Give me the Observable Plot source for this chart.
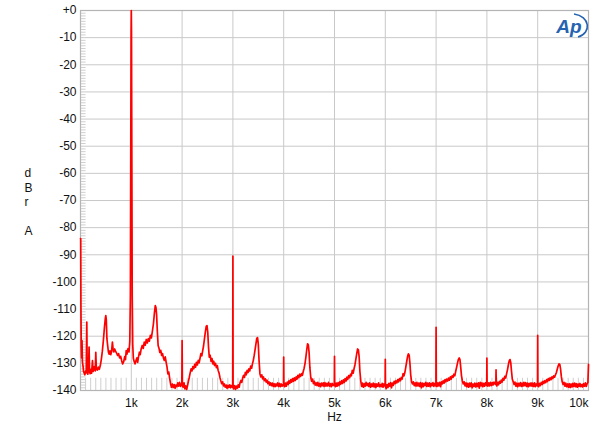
<!DOCTYPE html>
<html><head><meta charset="utf-8">
<script src="https://cdn.jsdelivr.net/npm/d3@7"></script>
<script src="https://cdn.jsdelivr.net/npm/@observablehq/plot@0.6"></script>
<style>body{margin:0;background:#fff} svg{display:block}</style>
</head><body><div id="chart"></div>
<script>
// Spectrum: [frequency Hz, level dBrA]
const spectrum = [
[0,-84],[4,-84],[8,-108],[15,-124],[22,-128],[30,-121.6],[38,-129.5],[50,-131],[60,-133],[72,-133.5],[85,-134.2],[100,-132.8],[112,-133.5],[124,-114.8],[132,-133],[145,-134],[158,-131.5],[169,-124],[178,-133],[190,-133.8],[205,-132.2],[218,-133.6],[236,-129],[248,-133],[262,-132],[275,-131.2],[290,-132.8],[301,-125.9],[312,-132],[330,-132.5],[350,-131.4],[370,-132.2],[390,-130.8],[410,-128.5],[430,-125.5],[450,-121.6],[470,-117],[488,-113.5],[498,-112.4],[508,-114],[520,-120.9],[535,-123.5],[550,-125.9],[565,-126.6],[580,-125.4],[595,-126.8],[612,-125.6],[628,-122.2],[640,-124.4],[655,-125.8],[670,-124.7],[690,-125.5],[710,-126.2],[730,-127.1],[750,-126.4],[770,-128],[790,-127.4],[810,-129],[830,-130.2],[850,-129.4],[870,-127.5],[885,-128.6],[900,-125.3],[915,-126.6],[935,-124.6],[955,-125.8],[970,-122],[982,-105],[990,-50],[996,-8],[1000,0],[1004,-8],[1010,-50],[1018,-105],[1028,-123],[1040,-128.1],[1058,-129.4],[1075,-130.2],[1092,-129],[1110,-128],[1125,-129.6],[1140,-127.8],[1160,-125.9],[1175,-126.8],[1195,-124.6],[1215,-123.4],[1235,-124.5],[1255,-122.2],[1275,-123.3],[1295,-121.2],[1315,-122.5],[1335,-120.9],[1355,-121.8],[1375,-119.7],[1395,-120.6],[1415,-118.2],[1435,-115.5],[1455,-111.5],[1472,-108.7],[1485,-109.4],[1498,-112],[1512,-118],[1528,-123.4],[1545,-124.4],[1562,-126],[1580,-125.2],[1598,-127.1],[1615,-126.4],[1632,-128],[1650,-128.9],[1668,-127.6],[1685,-129.5],[1702,-131.2],[1720,-133.9],[1738,-133.2],[1755,-135.5],[1772,-137.4],[1790,-138.8],[1808,-137.6],[1826,-138.9],[1845,-137.8],[1862,-139.2],[1880,-138],[1898,-138.6],[1915,-137.2],[1932,-138.4],[1950,-137],[1968,-138.5],[1985,-137.6],[1995,-138],[2000,-121.6],[2006,-138.2],[2020,-138.8],[2038,-137.2],[2055,-139.4],[2072,-138.3],[2090,-139.6],[2108,-138.1],[2125,-136.5],[2142,-135.1],[2160,-133.4],[2178,-132],[2195,-132.8],[2212,-131.2],[2230,-132],[2248,-130.4],[2265,-131.4],[2282,-129.6],[2300,-130.6],[2318,-128.9],[2335,-129.8],[2352,-128.2],[2370,-126.4],[2388,-127.2],[2405,-125.4],[2422,-123.6],[2440,-121],[2458,-118.4],[2475,-116.4],[2490,-116.1],[2505,-118.5],[2520,-124],[2535,-127.7],[2552,-127],[2570,-129.3],[2588,-128.2],[2605,-130.2],[2622,-129.2],[2640,-130.8],[2658,-130],[2675,-131.6],[2692,-130.8],[2710,-132.6],[2728,-133.6],[2745,-135.2],[2762,-136.4],[2780,-137.5],[2798,-136.8],[2815,-138.3],[2832,-137.6],[2850,-138.8],[2868,-138],[2885,-139.2],[2902,-138.1],[2920,-138.9],[2938,-137.9],[2955,-139],[2972,-138.2],[2990,-138.8],[2996,-138.4],[3000,-90.5],[3004,-138.6],[3018,-139.4],[3035,-138.2],[3052,-139.6],[3070,-138.4],[3088,-139.1],[3105,-137.9],[3122,-138.8],[3140,-137.2],[3158,-136.3],[3175,-137],[3192,-135.4],[3210,-134.4],[3228,-135.2],[3245,-133.3],[3262,-134.2],[3280,-132.6],[3298,-133.4],[3315,-132],[3332,-132.8],[3350,-131],[3368,-131.8],[3385,-130.2],[3402,-128.9],[3420,-127],[3438,-124.8],[3455,-122.6],[3470,-120.8],[3485,-120.5],[3500,-123],[3515,-129],[3532,-133.8],[3550,-135],[3568,-134.2],[3585,-135.7],[3602,-135],[3620,-136.4],[3638,-135.7],[3655,-136.9],[3672,-136.2],[3690,-137.5],[3708,-136.8],[3725,-138],[3742,-137.2],[3760,-138.2],[3778,-137.3],[3795,-138.5],[3812,-137.5],[3830,-138.6],[3848,-137.6],[3865,-138.3],[3882,-137.2],[3900,-138.5],[3918,-137.4],[3935,-138.6],[3952,-137.6],[3970,-138.4],[3988,-137.8],[3996,-138.1],[4000,-127.7],[4004,-138.2],[4018,-138.6],[4035,-137.3],[4052,-138.4],[4070,-136.9],[4088,-137.8],[4105,-136.4],[4122,-137.3],[4140,-136],[4158,-136.9],[4175,-135.6],[4192,-136.6],[4210,-135.3],[4228,-136.3],[4245,-135],[4262,-135.8],[4280,-134.4],[4298,-135.3],[4315,-134],[4332,-134.8],[4350,-133.8],[4368,-134.4],[4385,-133],[4402,-131.8],[4420,-130],[4438,-127.5],[4455,-124.8],[4470,-122.8],[4485,-123.2],[4500,-126],[4515,-131.5],[4532,-135.1],[4550,-136.6],[4568,-135.8],[4585,-137.5],[4602,-136.6],[4620,-138],[4638,-137.2],[4655,-138.2],[4672,-137],[4690,-138.4],[4708,-137.4],[4725,-138.6],[4742,-137.3],[4760,-138.2],[4778,-137.2],[4795,-138.5],[4812,-137.1],[4830,-138.4],[4848,-137.4],[4865,-138.3],[4882,-137],[4900,-138.4],[4918,-137.5],[4935,-138.6],[4952,-137.4],[4970,-138.2],[4988,-137.6],[4996,-138],[5000,-127.4],[5004,-138.1],[5018,-138.6],[5035,-137.3],[5052,-138.4],[5070,-137.1],[5088,-138.2],[5105,-136.8],[5122,-137.7],[5140,-136.4],[5158,-137.4],[5175,-136.1],[5192,-137],[5210,-135.6],[5228,-136.5],[5245,-135.1],[5262,-135.9],[5280,-134.5],[5298,-135.3],[5315,-134],[5332,-134.6],[5350,-132.6],[5368,-133.6],[5385,-132],[5402,-130.6],[5420,-128.5],[5438,-126.4],[5455,-124.7],[5470,-125],[5485,-127.5],[5500,-133],[5518,-136.6],[5535,-138.5],[5552,-137.3],[5570,-138.8],[5588,-137.5],[5605,-138.4],[5622,-137],[5640,-138.2],[5658,-137.4],[5675,-138.5],[5692,-137.2],[5710,-138.8],[5728,-137.6],[5745,-138.5],[5762,-137.3],[5780,-138.7],[5798,-137.5],[5815,-138.9],[5832,-137.6],[5850,-138.4],[5868,-137.2],[5885,-138.6],[5902,-137.8],[5920,-138.6],[5938,-137.4],[5955,-138.8],[5972,-137.6],[5988,-138.2],[5996,-138.4],[6000,-128.5],[6004,-138.6],[6018,-139.3],[6035,-137.8],[6052,-138.9],[6070,-137.4],[6088,-138.4],[6105,-137.1],[6122,-139],[6140,-137.3],[6158,-138.1],[6175,-136.6],[6192,-137.5],[6210,-136.4],[6228,-137.2],[6245,-136],[6262,-136.8],[6280,-135.6],[6298,-136.4],[6315,-135.2],[6332,-135.8],[6350,-133.8],[6368,-134.6],[6385,-133.4],[6402,-131.6],[6420,-129.5],[6438,-127.5],[6455,-126.5],[6470,-127],[6485,-130],[6500,-134.2],[6518,-136.8],[6535,-137.6],[6552,-136.8],[6570,-138.2],[6588,-137.2],[6605,-138.4],[6622,-137],[6640,-138.3],[6658,-137.3],[6675,-138.5],[6692,-137.1],[6710,-139],[6728,-137.3],[6745,-138.6],[6762,-137.4],[6780,-138.2],[6798,-137],[6815,-138.5],[6832,-137.3],[6850,-138.4],[6868,-137.2],[6885,-138.6],[6902,-137.4],[6920,-138.2],[6938,-137.1],[6955,-138.5],[6972,-137.4],[6988,-138],[6996,-138.3],[7000,-116.7],[7004,-138.4],[7018,-138.5],[7035,-137.2],[7052,-138.3],[7070,-137],[7088,-138.6],[7105,-136.8],[7122,-137.6],[7140,-136.4],[7158,-137.3],[7175,-136],[7192,-136.8],[7210,-135.8],[7228,-136.5],[7245,-135.4],[7262,-136.2],[7280,-135],[7298,-135.8],[7315,-134.6],[7332,-135.2],[7350,-134],[7368,-134.6],[7385,-133],[7402,-131.6],[7420,-130],[7438,-128.6],[7455,-128],[7470,-128.6],[7485,-131.5],[7500,-134.6],[7518,-136.5],[7535,-137.6],[7552,-136.8],[7570,-138.3],[7588,-137.2],[7605,-138.6],[7622,-137.4],[7640,-138.8],[7658,-137.3],[7675,-138.5],[7692,-137.2],[7710,-139],[7728,-137.6],[7745,-138.5],[7762,-137.3],[7780,-138.7],[7798,-137.4],[7815,-138.5],[7832,-137.2],[7850,-139.1],[7868,-137],[7885,-138.3],[7902,-137.2],[7920,-138.6],[7938,-137.4],[7955,-138.4],[7972,-137.2],[7988,-138],[7996,-138.2],[8000,-128.1],[8004,-138.2],[8018,-138.4],[8035,-137.2],[8052,-138.3],[8070,-137],[8088,-138.2],[8105,-137.1],[8122,-138],[8140,-136.9],[8158,-137.6],[8172,-137.2],[8176,-137.8],[8180,-132.4],[8184,-137.6],[8196,-138.3],[8212,-137],[8230,-137.9],[8248,-136.6],[8265,-137.3],[8282,-136.2],[8300,-136.9],[8318,-135.5],[8335,-136.2],[8352,-134.8],[8370,-135.4],[8388,-133.8],[8405,-132.4],[8422,-130.6],[8440,-129],[8455,-128.6],[8470,-129.8],[8485,-133],[8500,-135.8],[8518,-136.8],[8535,-137.8],[8552,-136.9],[8570,-138.4],[8588,-137.3],[8605,-138.6],[8622,-137.4],[8640,-138.3],[8658,-137.1],[8675,-138.5],[8692,-137.3],[8710,-138.4],[8728,-137],[8745,-138.2],[8762,-137.1],[8780,-138.5],[8798,-137.3],[8815,-138.6],[8832,-137.4],[8850,-138.3],[8868,-137.2],[8885,-138.4],[8902,-137.3],[8920,-138.5],[8938,-137.2],[8955,-138.6],[8972,-137.6],[8988,-138.2],[8996,-138.3],[9000,-119.7],[9004,-138.2],[9018,-138.6],[9035,-137.4],[9052,-138.2],[9070,-137],[9088,-137.8],[9105,-136.6],[9122,-137.4],[9140,-136.4],[9158,-137.1],[9175,-136],[9192,-136.7],[9210,-135.6],[9228,-136.3],[9245,-135.3],[9262,-136],[9280,-135],[9298,-135.6],[9315,-134.6],[9332,-135.1],[9350,-134.2],[9368,-133.4],[9385,-132.2],[9402,-131],[9420,-130.2],[9435,-130.4],[9450,-132],[9465,-134.8],[9482,-136.8],[9500,-137.8],[9518,-137],[9535,-138.4],[9552,-137.3],[9570,-138.6],[9588,-137.6],[9605,-138.8],[9622,-137.5],[9640,-138.9],[9658,-137.6],[9675,-138.7],[9692,-137.4],[9710,-138.5],[9728,-137.3],[9745,-138.6],[9762,-137.5],[9780,-138.8],[9798,-137.6],[9815,-138.5],[9832,-137.4],[9850,-138.6],[9868,-137.8],[9885,-138.7],[9902,-137.5],[9920,-138.4],[9938,-137.2],[9955,-138.5],[9972,-137.6],[9988,-137],[10000,-130.4]
];

const yTicks = [0, -10, -20, -30, -40, -50, -60, -70, -80, -90, -100, -110, -120, -130, -140];
const xGrid = [1000, 2000, 3000, 4000, 5000, 6000, 7000, 8000, 9000];
const xLabels = ["1k", "2k", "3k", "4k", "5k", "6k", "7k", "8k", "9k", "10k"];
const yLabels = ["+0", "-10", "-20", "-30", "-40", "-50", "-60", "-70", "-80", "-90", "-100", "-110", "-120", "-130", "-140"];
const xTitle = "Hz";
const yTitle = "d\nB\nr\n\nA";

const minorHz = d3.range(100, 10000, 100).filter(f => f % 1000 !== 0);
const minorDb = d3.range(-139, 0, 1).filter(v => v % 10 !== 0);

const gridColor = "#c9c9c9";
const font = "'Liberation Sans', Arial, sans-serif";

const chart = Plot.plot({
  width: 600,
  height: 432,
  marginLeft: 80,
  marginRight: 12,
  marginTop: 10,
  marginBottom: 42,
  style: {fontFamily: font, fontSize: "12px", color: "#111", background: "#fff"},
  x: {domain: [0, 10000], axis: null},
  y: {domain: [-140, 0], axis: null},
  marks: [
    Plot.ruleX(minorHz, {y1: -140, y2: -135.5, stroke: "#cfcfcf", strokeWidth: 1}),
    Plot.ruleY(minorDb, {x1: 0, x2: 110, stroke: "#cfcfcf", strokeWidth: 1}),
    Plot.gridY(yTicks, {stroke: gridColor, strokeOpacity: 1}),
    Plot.gridX(xGrid, {stroke: gridColor, strokeOpacity: 1}),
    Plot.frame({stroke: "#b4b4b4", strokeWidth: 1.2}),
    Plot.line(spectrum, {x: d => d[0], y: d => d[1], stroke: "#ff0000", strokeWidth: 1.7, strokeLinejoin: "round", clip: false}),
    Plot.axisY(yTicks, {tickSize: 0, tickPadding: 4, tickFormat: (d) => yLabels[yTicks.indexOf(d)], fontSize: 12, fill: "#111"}),
    Plot.axisX(xGrid, {tickSize: 0, tickPadding: 8, tickFormat: d => xLabels[d / 1000 - 1], fontSize: 12, fill: "#111"}),
    Plot.axisX([10000], {tickSize: 0, tickPadding: 8, textAnchor: "end", tickFormat: d => xLabels[9], fontSize: 12, fill: "#111"}),
    Plot.text([xTitle], {frameAnchor: "bottom", dy: 30, fontSize: 12, fill: "#111"}),
    Plot.text([yTitle], {frameAnchor: "left", dx: -56, dy: 1, lineHeight: 1.2, fontSize: 12, fill: "#111"})
  ]
});

// Ap logo
const svg = d3.select(chart);
const logo = svg.append("g").attr("fill", "none");
logo.append("text").attr("x", 569).attr("y", 33).attr("text-anchor", "middle")
  .attr("font-family", font).attr("font-style", "italic").attr("font-weight", "bold")
  .attr("font-size", 19).attr("fill", "#2563b0").text("Ap");
logo.append("path").attr("d", "M574,14 C590,16 592,33 578,37").attr("stroke", "#2563b0").attr("stroke-width", 1.6);

document.getElementById("chart").append(chart);
</script>
</body></html>
